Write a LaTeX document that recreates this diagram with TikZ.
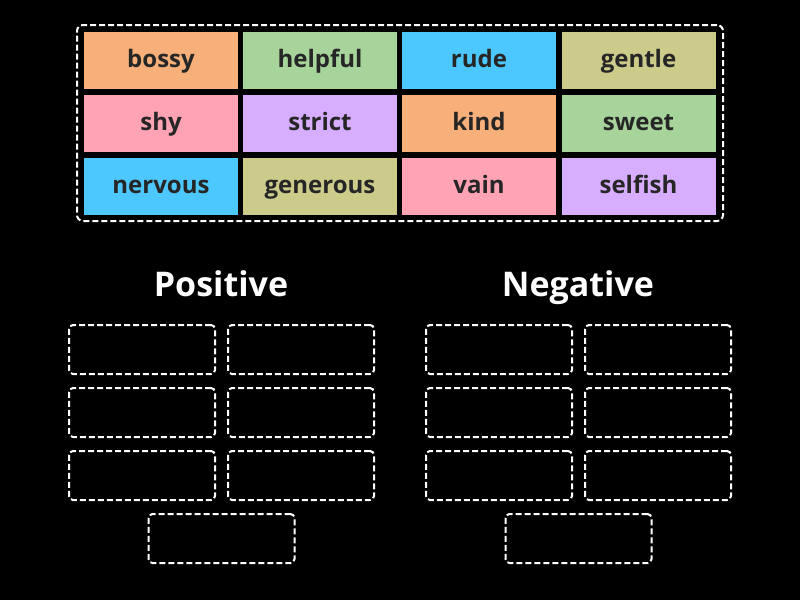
\documentclass[tikz,border=0pt]{standalone}
\usepackage{fontspec}
\setmainfont{Open Sans}
\begin{document}
\begin{tikzpicture}[x=1pt,y=-1pt,
  tile/.style={minimum width=154pt,minimum height=57pt,inner sep=0pt,text height=1.55ex,text depth=.4ex,font=\bfseries\fontsize{24}{28}\selectfont,text=black!85},
  slot/.style={draw=white,dash pattern=on 6pt off 3pt,line width=2pt,rounded corners=4pt,minimum width=146pt,minimum height=49pt,inner sep=0pt},
  head/.style={text=white,text height=1.55ex,text depth=.4ex,font=\bfseries\fontsize{34}{40}\selectfont}]
\definecolor{cor}{HTML}{F8B07A}
\definecolor{cgr}{HTML}{A7D49B}
\definecolor{cbl}{HTML}{4DC8FF}
\definecolor{col}{HTML}{CDCB8A}
\definecolor{cpk}{HTML}{FFA3B5}
\definecolor{clv}{HTML}{D6ADFF}
\fill[black] (0,0) rectangle (800,600);
\useasboundingbox (0,0) rectangle (800,600);
\node[draw=white,dash pattern=on 6pt off 3pt,line width=2pt,rounded corners=6pt,minimum width=646pt,minimum height=196pt] (bank) at (400,123) {};
\foreach \t/\c/\x/\y/\n in {bossy/cor/161/60.5/a1,helpful/cgr/320/60.5/a2,rude/cbl/479/60.5/a3,gentle/col/638.5/60.5/a4,
  shy/cpk/161/123.5/b1,strict/clv/320/123.5/b2,kind/cor/479/123.5/b3,sweet/cgr/638.5/123.5/b4,
  nervous/cbl/161/186.5/c1,generous/col/320/186.5/c2,vain/cpk/479/186.5/c3,selfish/clv/638.5/186.5/c4}
  {\node[tile,fill=\c] (\n) at (\x,\y) {};
   \node[tile,yshift=-4pt] (\n t) at (\x,\y) {\t};}
\node[head] (pos) at (221,293) {Positive};
\node[head] (neg) at (578,293) {Negative};
\foreach \x/\s in {142/pl,301/pr,499/nl,658/nr}
  \foreach \y/\r in {349.5/1,412.5/2,475.5/3}
    \node[slot] (\s\r) at (\x,\y) {};
\node[slot] (pb) at (221.5,538.5) {};
\node[slot] (nb) at (578.5,538.5) {};
\end{tikzpicture}
\end{document}
